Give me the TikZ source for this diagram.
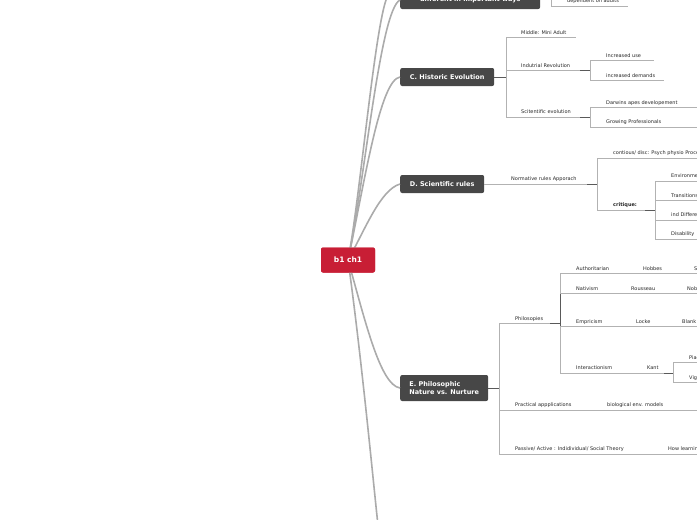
\documentclass[tikz,border=0pt]{standalone}
\usepackage{fontspec}
\setmainfont{DejaVu Sans}
\definecolor{rootred}{HTML}{C81E35}
\begin{document}
\begin{tikzpicture}[x=1pt,y=-1pt,
  root/.style={fill=rootred, text=white, font=\bfseries\fontsize{7.5}{9}\selectfont, rounded corners=2pt, minimum width=54pt, minimum height=25pt, inner sep=2pt},
  mainbox/.style={fill=black!72, text=white, font=\bfseries\fontsize{6.5}{8}\selectfont, rounded corners=2pt, anchor=west, align=left, inner sep=4pt},
  lbl/.style={font=\fontsize{5}{6}\selectfont, anchor=base west, inner sep=0pt, text=black!85},
  blbl/.style={lbl, font=\bfseries\fontsize{5}{6}\selectfont},
  link/.style={draw=black!33, line width=1.6pt},
  ul/.style={draw=black!30, line width=0.6pt},
  jn/.style={draw=black!65, line width=0.9pt}]
\useasboundingbox (0,0) rectangle (697,520);
\clip (0,0) rectangle (697,520);
\node[root] (r) at (348,260) {b1 ch1};
\node[mainbox, minimum width=140pt, minimum height=18pt] (A) at (400,0) {different in important ways};
\node[mainbox, minimum width=94pt, minimum height=18pt] (C) at (400,77) {C. Historic Evolution};
\node[mainbox, minimum width=84pt, minimum height=18pt] (D) at (400,184) {D. Scientific rules};
\node[mainbox, minimum width=88pt, minimum height=26pt] (E) at (400,388) {E. Philosophic\\Nature vs. Nurture};
\coordinate (t1) at (388,-5);
\coordinate (bt) at (378,525);
\draw[link] (r.center) .. controls (360,200) and (375,20) .. (t1);
\draw[link] (r.center) .. controls (365,180) and (380,10) .. (A.west);
\draw[link] (r.center) .. controls (365,180) and (380,80) .. (C.west);
\draw[link] (r.center) .. controls (365,230) and (380,190) .. (D.west);
\draw[link] (r.center) .. controls (365,320) and (380,385) .. (E.west);
\draw[link] (r.center) .. controls (362,360) and (375,500) .. (bt);
\node[root] at (348,260) {b1 ch1};
\node[lbl] (dep) at (567,2) {dependent on adults};
\draw[ul] (551,-5) -- (551,6) -- (628,6);
\draw[jn] (C.east) -- (506,77);
\draw[ul] (506,37) -- (506,117);
\node[lbl] at (521,34) {Middle: Mini Adult};
\draw[ul] (506,37) -- (576,37);
\node[lbl] at (521,67) {Indutrial Revolution};
\draw[ul] (506,70) -- (580,70); \draw[jn] (580,70) -- (590,70);
\draw[ul] (590,60) -- (590,80);
\node[lbl] at (606,57) {Increased use};
\draw[ul] (590,60) -- (654,60);
\node[lbl] at (606,77) {increased demands};
\draw[ul] (590,80) -- (664,80);
\node[lbl] at (521,113) {Scitentific evolution};
\draw[ul] (506,117) -- (580,117); \draw[jn] (580,117) -- (590,117);
\draw[ul] (590,107) -- (590,127);
\node[lbl] at (606,104) {Darwins apes developement};
\draw[ul] (590,107) -- (697,107);
\node[lbl] at (606,123) {Growing Professionals};
\draw[ul] (590,127) -- (697,127);
\draw[ul] (D.east) -- (587,184); \draw[jn] (587,184) -- (597,184);
\node[lbl] at (511,180) {Normative rules Apporach};
\draw[ul] (597,158) -- (597,210);
\node[lbl] at (613,154) {contious/ disc: Psych physio Processes};
\draw[ul] (597,158) -- (697,158);
\node[blbl] at (613,206) {critique:};
\draw[ul] (597,210) -- (645,210); \draw[jn] (645,210) -- (655,210);
\draw[ul] (655,181) -- (655,239);
\node[lbl] at (671,177) {Environment};
\draw[ul] (655,181) -- (697,181);
\node[lbl] at (671,197) {Transitions};
\draw[ul] (655,200) -- (697,200);
\node[lbl] at (671,216) {ind Differences};
\draw[ul] (655,220) -- (697,220);
\node[lbl] at (671,235) {Disability};
\draw[ul] (655,239) -- (697,239);
\draw[jn] (E.east) -- (499,388);
\draw[ul] (499,323) -- (499,454);
\node[lbl] at (515,320) {Philosopies};
\draw[ul] (499,323) -- (550,323); \draw[jn] (550,323) -- (560,323);
\draw[ul] (560,273) -- (560,373);
\draw[jn] (560,293) -- (560,326);
\node[lbl] at (576,270) {Authoritarian};
\node[lbl] at (643,270) {Hobbes};
\node[lbl] at (694,270) {Sin};
\draw[ul] (560,273) -- (697,273);
\node[lbl] at (576,290) {Nativism};
\node[lbl] at (631,290) {Rousseau};
\node[lbl] at (687,290) {Noble};
\draw[ul] (560,293) -- (697,293);
\node[lbl] at (576,323) {Empricism};
\node[lbl] at (636,323) {Locke};
\node[lbl] at (682,323) {Blank};
\draw[ul] (560,326) -- (697,326);
\node[lbl] at (576,369) {Interactionism};
\node[lbl] at (647,369) {Kant};
\draw[ul] (560,373) -- (664,373); \draw[jn] (664,373) -- (673,373);
\draw[ul] (673,362) -- (673,382);
\node[lbl] at (689,359) {Piaget};
\draw[ul] (673,362) -- (697,362);
\node[lbl] at (689,379) {Vigotsky};
\draw[ul] (673,382) -- (697,382);
\node[lbl] at (515,406) {Practical appplications};
\node[lbl] at (607,406) {biological env. models};
\draw[ul] (499,410) -- (697,410);
\node[lbl] at (515,450) {Passive/ Active : Indidividual/ Social Theory};
\node[lbl] at (668,450) {How learning};
\draw[ul] (499,454) -- (697,454);
\end{tikzpicture}
\end{document}
